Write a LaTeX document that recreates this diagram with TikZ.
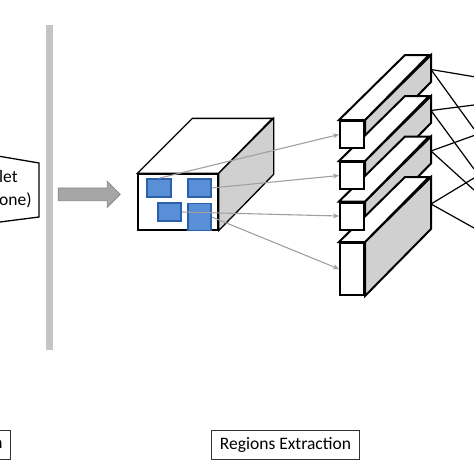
\documentclass[tikz,border=0pt]{standalone}
\usepackage{fontspec}
\setmainfont{Carlito}
\usetikzlibrary{shapes.arrows, arrows.meta, positioning, backgrounds, calc}
\definecolor{dividercolor}{RGB}{200, 196, 196}
\definecolor{sidecolor}{RGB}{208, 208, 208}
\definecolor{regionfill}{RGB}{88, 143, 214}
\definecolor{regionedge}{RGB}{44, 96, 170}
\definecolor{projcolor}{RGB}{160, 160, 160}
\definecolor{flowfill}{RGB}{166, 166, 166}
\definecolor{flowedge}{RGB}{135, 135, 135}
\tikzstyle{cubefront} = [
    rectangle,
    minimum width=80pt,
    minimum height=56pt,
    inner sep=0pt,
    draw=black,
    line width=1.3pt,
    fill=white
]
\tikzstyle{region} = [
    rectangle,
    inner sep=0pt,
    draw=regionedge,
    line width=1.5pt,
    fill=regionfill
]
\tikzstyle{barfront} = [
    rectangle,
    minimum width=24pt,
    minimum height=27pt,
    inner sep=0pt,
    draw=black,
    line width=2pt,
    fill=white
]
\tikzstyle{barline} = [
    draw=black,
    line width=2pt,
    line join=miter
]
\tikzstyle{proj} = [
    -{Stealth[length=6pt, width=5pt]},
    line width=1.1pt,
    color=projcolor
]
\tikzstyle{fcline} = [
    line width=1.2pt,
    color=black
]
\tikzstyle{labelbox} = [
    rectangle,
    minimum height=29pt,
    inner xsep=8pt,
    draw=black!80,
    line width=1pt,
    font=\fontsize{17.5}{21}\selectfont
]
\tikzstyle{flowarrow} = [
    single arrow,
    single arrow head extend=6.5pt,
    inner xsep=0pt,
    inner ysep=6pt,
    minimum height=62pt,
    draw=flowedge,
    line width=0.8pt,
    fill=flowfill
]

\begin{document}
\begin{tikzpicture}[x=1pt, y=-1pt]

\begin{scope}[on background layer]
    \fill[white] (0,0) rectangle (474,474);
\end{scope}
\useasboundingbox (0,0) rectangle (474,474);

% Backbone block (cut off at the left edge)
\draw[line width=1.3pt, fill=white] (-8,155) -- (39,163) -- (39,217) -- (-8,223);
\node[anchor=west, align=left, inner sep=0pt, font=\fontsize{17.5}{23}\selectfont] (backbone) at (-1,189) {let\\one)};

% Divider
\node[rectangle, fill=dividercolor, minimum width=7pt, minimum height=325pt, inner sep=0pt] (divider) at (49.5,187.5) {};

% Flow arrow
\node[flowarrow] (flow) at (86,194.3) {};

% Feature map cube
\node[cubefront] (cube) at (178,202) {};
\begin{scope}[on background layer]
    \draw[line width=1.3pt, fill=white] (cube.north west) -- ++(55,-55) -- ++(80,0) -- (cube.north east) -- cycle;
    \draw[line width=1.3pt, fill=sidecolor] (cube.north east) -- ++(55,-55) -- ++(0,56) -- (cube.south east) -- cycle;
\end{scope}

% Regions on the feature map
\node[region, minimum width=24pt, minimum height=18pt] (reg1) at (159,188) {};
\node[region, minimum width=23pt, minimum height=18pt] (reg2) at (199.5,188) {};
\node[region, minimum width=23pt, minimum height=18pt] (reg3) at (169.5,212) {};
\node[region, minimum width=23pt, minimum height=27pt] (reg4) at (199.5,217) {};

% Pooled region features
\node[barfront] (bar1) at (352,134.5) {};
\node[barfront] (bar2) at (352,175.5) {};
\node[barfront] (bar3) at (352,216) {};
\node[barfront, minimum height=52pt] (bar4) at (352,269) {};
\begin{scope}[on background layer]
    \draw[barline, fill=sidecolor] (bar1.north east) -- ++(66,-65) -- ++(0,27) -- (bar1.south east) -- cycle;
    \draw[barline, fill=white] (bar1.north west) -- ++(66,-65) -- ++(24,0) -- (bar1.north east) -- cycle;
    \draw[barline, fill=sidecolor] (bar2.north east) -- ++(66,-65) -- ++(0,27) -- (bar2.south east) -- cycle;
    \draw[barline, fill=white] (bar2.north west) -- ++(66,-65) -- ++(24,0) -- (bar2.north east) -- cycle;
    \draw[barline, fill=sidecolor] (bar3.north east) -- ++(66,-65) -- ++(0,27) -- (bar3.south east) -- cycle;
    \draw[barline, fill=white] (bar3.north west) -- ++(66,-65) -- ++(24,0) -- (bar3.north east) -- cycle;
    \draw[barline, fill=sidecolor] (bar4.north east) -- ++(66,-65) -- ++(0,52) -- (bar4.south east) -- cycle;
    \draw[barline, fill=white] (bar4.north west) -- ++(66,-65) -- ++(24,0) -- (bar4.north east) -- cycle;
\end{scope}

% Projections
\draw[proj] (reg1.north) -- (bar1.west);
\draw[proj] (reg2.east) -- (bar2.west);
\draw[proj] (reg3.east) -- (bar3.west);
\draw[proj] (reg4.east) -- (bar4.west);

% Fully connected layer (cut off at the right edge)
\coordinate (out1) at ($(bar1.east)+(66,-65)$);
\coordinate (out2) at ($(bar2.east)+(66,-65)$);
\coordinate (out3) at ($(bar3.east)+(66,-65)$);
\coordinate (out4) at ($(bar4.east)+(66,-65)$);
\coordinate (fc1) at (474,76.7);
\coordinate (fc2) at (474,105);
\coordinate (fc3) at (474,129);
\coordinate (fc4) at (474,135.5);
\coordinate (fc5) at (474,169);
\coordinate (fc6) at (474,178);
\coordinate (fc7) at (474,190);
\coordinate (fc8) at (474,228);
\draw[fcline] (out1) -- (fc1);
\draw[fcline] (out1) -- (fc3);
\draw[fcline] (out2) -- (fc2);
\draw[fcline] (out2) -- (fc5);
\draw[fcline] (out3) -- (fc4);
\draw[fcline] (out3) -- (fc7);
\draw[fcline] (out4) -- (fc6);
\draw[fcline] (out4) -- (fc8);

% Labels
\node[labelbox, anchor=east] (backlabel) at (11,444.5) {n};
\node[labelbox] (extractlabel) at (285.5,444.5) {Regions Extraction};

\end{tikzpicture}
\end{document}
